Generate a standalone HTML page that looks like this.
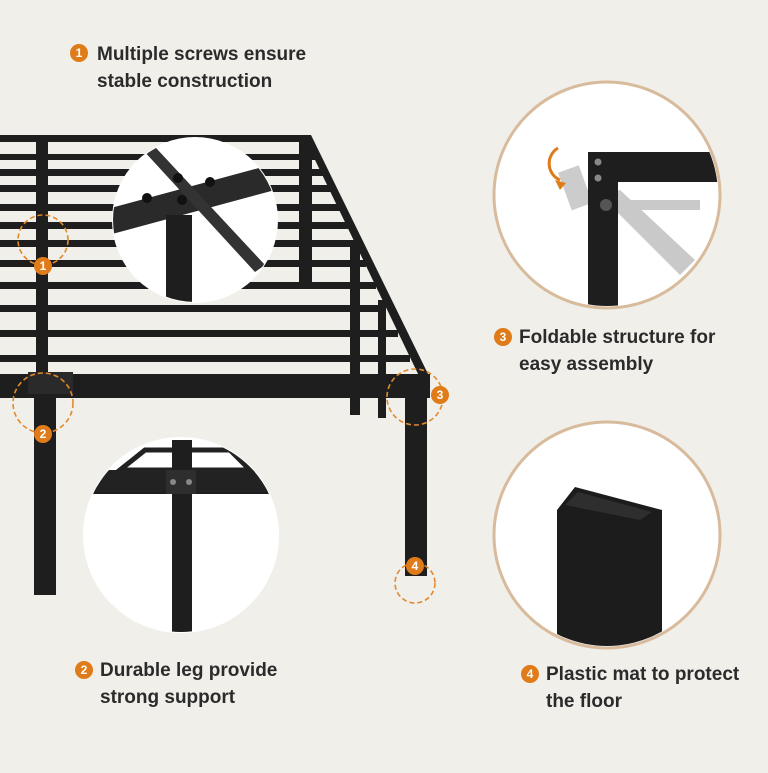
<!DOCTYPE html>
<html><head><style>
body{margin:0;background:#f1efea;}
.t{font-family:"Liberation Sans",sans-serif;font-weight:bold;font-size:19px;fill:#2b2b2b;}
.n{font-family:"Liberation Sans",sans-serif;font-weight:bold;font-size:12px;fill:#fff;}
</style></head><body>
<svg width="768" height="768" xmlns="http://www.w3.org/2000/svg">
<rect width="768" height="768" fill="#f1efea"/>
<!-- bed frame -->
<g fill="#1e1e1e">
<rect x="0" y="135" width="310" height="7"/>
<polygon points="303,135 311,135 430,378 420,378"/>
<rect x="36" y="140" width="12" height="240"/>
<rect x="299" y="140" width="13" height="145"/>
<rect x="350" y="240" width="10" height="175"/>
<rect x="378" y="300" width="8" height="118"/>
<rect x="0" y="154" width="318" height="6"/>
<rect x="0" y="169" width="324" height="7"/>
<rect x="0" y="185" width="331" height="7"/>
<rect x="0" y="204" width="340" height="7"/>
<rect x="0" y="222" width="348" height="7"/>
<rect x="0" y="240" width="357" height="7"/>
<rect x="0" y="260" width="366" height="7"/>
<rect x="0" y="282" width="376" height="7"/>
<rect x="0" y="305" width="386" height="7"/>
<rect x="0" y="330" width="398" height="7"/>
<rect x="0" y="355" width="410" height="7"/>
<rect x="0" y="374" width="430" height="24"/>
<rect x="34" y="378" width="22" height="217"/>
<rect x="405" y="378" width="22" height="198"/>
<rect x="28" y="372" width="45" height="22" fill="#2a2a2a"/>
</g>
<!-- dashed markers -->
<g fill="none" stroke="#e08a2c" stroke-width="1.6" stroke-dasharray="5,3">
<circle cx="43" cy="240" r="25"/><circle cx="43" cy="403" r="30"/>
<circle cx="415" cy="397" r="28"/><circle cx="415" cy="583" r="20"/>
</g>
<g fill="#e07b1a">
<circle cx="43" cy="266" r="9"/><circle cx="43" cy="434" r="9"/><circle cx="440" cy="395" r="9"/><circle cx="415" cy="566" r="9"/>
<circle cx="79" cy="53" r="9"/><circle cx="503" cy="337" r="9"/><circle cx="84" cy="670" r="9"/><circle cx="530" cy="674" r="9"/>
</g>
<g class="n" text-anchor="middle">
<text x="43" y="270">1</text><text x="43" y="438">2</text><text x="440" y="399">3</text><text x="415" y="570">4</text>
<text x="79" y="57">1</text><text x="503" y="341">3</text><text x="84" y="674">2</text><text x="530" y="678">4</text>
</g>
<!-- circle 1 -->
<circle cx="195" cy="220" r="83" fill="#fff"/>
<clipPath id="c1"><circle cx="195" cy="220" r="82"/></clipPath>
<g clip-path="url(#c1)">
<polygon points="85,215 270,165 275,190 90,240" fill="#2a2a2a"/>
<rect x="166" y="215" width="26" height="100" fill="#1e1e1e"/>
<polygon points="120,125 130,120 265,265 255,272" fill="#333"/>
<circle cx="178" cy="178" r="5" fill="#111"/><circle cx="210" cy="182" r="5" fill="#111"/><circle cx="147" cy="198" r="5" fill="#111"/><circle cx="182" cy="200" r="5" fill="#111"/>
</g>
<!-- circle 3 -->
<circle cx="607" cy="195" r="113" fill="#fff" stroke="#d8bb9c" stroke-width="3"/>
<clipPath id="c3"><circle cx="607" cy="195" r="111"/></clipPath>
<g clip-path="url(#c3)">
<polygon points="615,200 700,200 700,210 630,210" fill="#c9c9c9"/>
<polygon points="600,195 620,190 695,260 680,275" fill="#c9c9c9"/>
<rect x="565" y="168" width="22" height="40" fill="#ccc" transform="rotate(-20 575 190)"/>
<rect x="588" y="152" width="130" height="30" fill="#1e1e1e"/>
<rect x="588" y="152" width="30" height="160" fill="#1e1e1e"/>
<circle cx="598" cy="162" r="3.5" fill="#888"/><circle cx="598" cy="178" r="3.5" fill="#888"/><circle cx="606" cy="205" r="6" fill="#555"/>
<path d="M558,148 A18,18 0 0 0 560,180" fill="none" stroke="#e07b1a" stroke-width="3"/>
<polygon points="555,180 566,183 560,190" fill="#e07b1a"/>
</g>
<!-- circle 2 -->
<circle cx="181" cy="535" r="98" fill="#fff"/>
<clipPath id="c2"><circle cx="181" cy="535" r="97"/></clipPath>
<g clip-path="url(#c2)">
<rect x="80" y="486" width="200" height="8" fill="#1e1e1e"/>
<rect x="80" y="470" width="200" height="22" fill="#222"/>
<polygon points="120,470 145,450 230,450 250,470" fill="none" stroke="#222" stroke-width="5"/>
<rect x="172" y="440" width="20" height="200" fill="#1e1e1e"/>
<rect x="166" y="470" width="30" height="24" fill="#2e2e2e"/>
<circle cx="173" cy="482" r="3" fill="#888"/><circle cx="189" cy="482" r="3" fill="#888"/>
</g>
<!-- circle 4 -->
<circle cx="607" cy="535" r="113" fill="#fff" stroke="#d8bb9c" stroke-width="3"/>
<clipPath id="c4"><circle cx="607" cy="535" r="111"/></clipPath>
<g clip-path="url(#c4)">
<polygon points="557,510 575,487 662,510 662,660 557,660" fill="#1c1c1c"/>
<polygon points="565,505 578,492 652,512 640,520" fill="#2e2e2e"/>
</g>
<!-- texts -->
<text class="t" x="97" y="60">Multiple screws ensure</text>
<text class="t" x="97" y="87">stable construction</text>
<text class="t" x="519" y="343">Foldable structure for</text>
<text class="t" x="519" y="370">easy assembly</text>
<text class="t" x="100" y="676">Durable leg provide</text>
<text class="t" x="100" y="703">strong support</text>
<text class="t" x="546" y="680">Plastic mat to protect</text>
<text class="t" x="546" y="707">the floor</text>
</svg>
</body></html>
